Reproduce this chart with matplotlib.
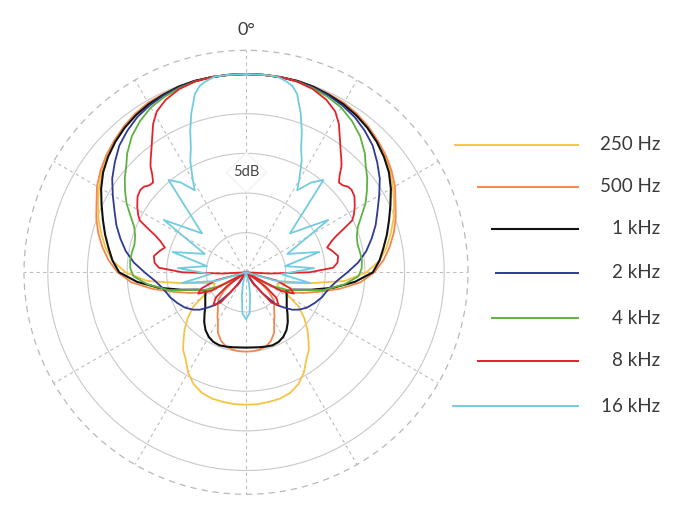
import numpy as np
import matplotlib
matplotlib.use("Agg")
import matplotlib.pyplot as plt
from matplotlib.lines import Line2D

plt.rcParams['font.family'] = ['Lato', 'DejaVu Sans']

# Polar response, one side (0..180 deg); the other side mirrors it.
labels = ["250 Hz", "500 Hz", "1 kHz", "2 kHz", "4 kHz", "8 kHz", "16 kHz"]
colors = ["#F6C444", "#F4874E", "#111111", "#2E3A93", "#5DB342", "#E2232A", "#72CCDF"]

ang_250 = [0, 5, 10, 15, 20, 25, 30, 35, 40, 45, 50, 55, 60, 65, 70, 75, 80, 85, 90, 95, 100, 105, 110,
           114, 118, 123, 128, 133, 138, 141, 145, 150, 155, 160, 165, 170, 175, 180]
db_250 = [0, 0, 0, -0.05, -0.1, -0.25, -0.4, -0.7, -1.1, -1.6, -2.1, -2.8, -3.6, -4.4, -5.2, -6.1, -7.0, -8.1, -9.8,
          -12.5, -17.0, -19.8, -20.8, -20.6, -19.2, -17.1, -15.7, -14.4, -13.2, -12.4, -11.7, -10.4, -9.4, -8.8,
          -8.5, -8.4, -8.3, -8.3]

ang_500 = [0, 5, 10, 15, 20, 25, 30, 35, 40, 45, 50, 55, 60, 65, 70, 75, 80, 85, 90, 95, 100, 105, 110, 114,
           118, 122, 126, 130, 135, 139, 143, 147, 150, 155, 160, 165, 170, 175, 180]
db_500 = [0, 0, 0, 0, -0.1, -0.2, -0.3, -0.6, -1.0, -1.5, -2.0, -2.6, -3.3, -4.2, -4.9, -5.7, -6.6, -7.6, -8.8,
          -10.5, -13.0, -15.5, -17.4, -18.7, -21.0, -23.5, -22.8, -21.3, -20.1, -19.6, -19.1, -18.4, -17.9, -16.6,
          -15.8, -15.3, -15.1, -15.0, -15.0]

ang_1k = [0, 5, 10, 15, 20, 25, 30, 35, 40, 45, 50, 55, 60, 65, 70, 75, 80, 85, 90, 95, 100, 105, 110, 114,
          118, 124, 130, 135, 140, 145, 150, 155, 160, 165, 170, 180]
db_1k = [0, 0, 0, 0, -0.1, -0.3, -0.5, -0.8, -1.2, -1.7, -2.3, -3.0, -3.9, -4.9, -5.8, -6.6, -7.4, -8.1, -9.0,
         -11.2, -13.8, -16.5, -18.6, -19.4, -19.2, -18.8, -18.3, -17.6, -16.8, -16.1, -15.6, -15.3, -15.2, -15.3,
         -15.4, -15.5]

ang_2k = [0, 5, 10, 15, 20, 25, 30, 35, 40, 45, 50, 55, 60, 65, 70, 75, 80, 85, 90, 95, 100, 105, 108, 114,
          120, 125, 129, 133, 137, 142, 148, 155, 180]
db_2k = [0, 0, 0, -0.05, -0.2, -0.4, -0.7, -1.1, -1.7, -2.4, -3.4, -4.4, -5.6, -6.7, -7.6, -8.6, -9.6, -10.8,
         -12.2, -13.4, -14.2, -14.7, -14.9, -15.5, -16.1, -16.8, -17.5, -18.5, -19.4, -21.7, -23.5, -25, -25]

ang_4k = [0, 5, 10, 15, 20, 25, 30, 35, 40, 45, 48, 52, 56, 60, 64, 68, 72, 76, 80, 84, 88, 92, 97, 103, 108,
          113, 117, 121, 126, 180]
db_4k = [0, 0, 0, -0.1, -0.3, -0.6, -1.0, -1.7, -2.6, -3.8, -4.7, -5.6, -6.6, -7.6, -8.8, -9.8, -10.3, -10.5,
         -10.4, -10.3, -10.4, -10.8, -12.5, -15.0, -17.8, -19.3, -21.0, -23.0, -25, -25]

ang_8k = [0, 5, 10, 15, 20, 25, 29, 32, 34, 36, 38, 40, 42, 44, 46, 48, 50, 52, 55, 59, 62, 64, 66, 68, 70, 73,
          76, 80, 84, 87, 90, 93, 96, 100, 105, 110, 114, 118, 122, 126, 130, 135, 140, 145, 150, 180]
db_8k = [0, 0, 0, -0.1, -0.4, -1.0, -1.8, -2.9, -3.9, -4.8, -5.6, -6.3, -7.0, -8.0, -8.7, -8.6, -8.2, -8.1,
         -8.3, -9.0, -9.6, -10.1, -11.5, -12.7, -13.5, -14.3, -13.8, -13.2, -13.4, -14.0, -17.0, -22.0, -25, -25,
         -21, -19, -18.4, -20, -25, -22, -20, -19.2, -20, -23, -25, -25]

ang_16k = [0, 5, 9, 12, 14, 16, 17, 19, 21.5, 24, 26.6, 30, 32, 36, 40, 48.5, 57.5, 66, 74.5, 81, 86.5, 93,
           99.5, 106, 112, 160, 165, 170, 175, 180]
db_16k = [0, 0, 0, -0.4, -0.8, -1.6, -2.4, -3.8, -5.8, -7.9, -9.3, -11.6, -12.8, -11.0, -9.8, -17.6, -12.7,
          -19.3, -15.4, -20.0, -16.4, -20.5, -16.8, -21.0, -25, -25, -23.5, -22.0, -19.8, -19.1]

series = [(ang_250, db_250), (ang_500, db_500), (ang_1k, db_1k), (ang_2k, db_2k),
          (ang_4k, db_4k), (ang_8k, db_8k), (ang_16k, db_16k)]

rings = [-20, -15, -10, -5, 0]
r_min, r_max = -25, 3

W, H = 686, 513
fig = plt.figure(figsize=(W / 100, H / 100), dpi=100)
cx, cy, R = 246, 272.3, 222
ax = fig.add_axes([(cx - R) / W, (H - cy - R) / H, 2 * R / W, 2 * R / H], projection='polar')
ax.set_theta_zero_location('N')
ax.set_theta_direction(1)
ax.set_ylim(r_min, r_max)
ax.axis('off')

t = np.linspace(0, 2 * np.pi, 721)
for r in rings:
    ax.plot(t, np.full_like(t, r), color='#c9c9c9', lw=0.8, zorder=1)
for a in range(0, 360, 30):
    ax.plot([np.deg2rad(a)] * 2, [r_min, r_max], color='#bdbdbd', lw=0.8,
            ls=(0, (3, 3)), zorder=1, clip_on=False)
ax.plot(t, np.full_like(t, r_max), color='#b8b8b8', lw=0.9, ls=(0, (5, 4)),
        zorder=1, clip_on=False)

# scale label with a white diamond behind it
ax.plot([0], [-12.4], marker='D', ms=20, mfc='white', mec='#efefef', mew=0.8, zorder=2)
ax.text(0, -12.4, "5dB", ha='center', va='center', fontsize=10.5, color='#444444', zorder=3)

for (ang, db), col in zip(series, colors):
    a = np.deg2rad(np.array(ang, dtype=float))
    d = np.array(db, dtype=float)
    theta = np.concatenate([a, 2 * np.pi - a[::-1]])
    rr = np.concatenate([d, d[::-1]])
    lw = 1.5 if col == "#111111" else 1.3
    ax.plot(theta, rr, color=col, lw=lw, zorder=4, solid_joinstyle='round')

fig.text(cx / W, 1 - 30 / H, "0°", ha='center', va='center', fontsize=13, color='#3a3a3a')

# key
leg_y = [145, 187, 229, 273, 318, 361, 406]
leg_x0 = [455, 478, 492, 496, 492, 478, 453]
leg_x1 = 578
for lab, col, y, x0 in zip(labels, colors, leg_y, leg_x0):
    fig.add_artist(Line2D([x0 / W, leg_x1 / W], [1 - y / H, 1 - y / H],
                          color=col, lw=1.5 if col == "#111111" else 1.4))
    fig.text(660 / W, 1 - y / H, lab, ha='right', va='center', fontsize=13.5, color='#3a3a3a')

fig.savefig("out.png", dpi=100)
